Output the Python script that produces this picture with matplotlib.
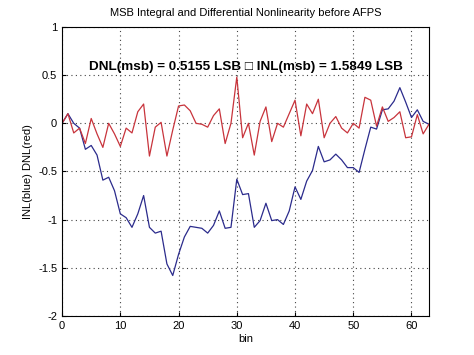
import numpy as np
import matplotlib
matplotlib.use("Agg")
import matplotlib.pyplot as plt

plt.rcParams['font.family'] = ['Liberation Sans', 'DejaVu Sans']

bins = np.arange(64)
dnl = [0.0, 0.10, -0.10, -0.05, -0.21, 0.05, -0.11, -0.25, 0.0, -0.11,
       -0.24, -0.05, -0.10, 0.12, 0.20, -0.34, -0.04, 0.01, -0.34, -0.07,
       0.18, 0.19, 0.13, 0.0, -0.01, -0.04, 0.08, 0.15, -0.21, 0.0,
       0.48, -0.15, 0.0, -0.33, 0.02, 0.17, -0.19, 0.0, -0.04, 0.10,
       0.24, -0.13, 0.20, 0.10, 0.25, -0.15, 0.0, 0.07, -0.05, -0.10,
       0.0, -0.05, 0.27, 0.24, -0.03, 0.17, 0.02, 0.06, 0.12, -0.15,
       -0.14, 0.09, -0.11, -0.01]
inl = [0.0, 0.10, 0.0, -0.05, -0.27, -0.23, -0.33, -0.59, -0.56, -0.70,
       -0.94, -0.98, -1.08, -0.94, -0.75, -1.08, -1.14, -1.12, -1.46, -1.58,
       -1.36, -1.18, -1.07, -1.08, -1.09, -1.14, -1.06, -0.91, -1.09, -1.08,
       -0.58, -0.74, -0.73, -1.08, -1.01, -0.83, -1.01, -1.00, -1.05, -0.91,
       -0.66, -0.79, -0.60, -0.49, -0.24, -0.40, -0.38, -0.32, -0.38, -0.46,
       -0.46, -0.51, -0.27, -0.04, -0.06, 0.14, 0.15, 0.23, 0.37, 0.22,
       0.06, 0.14, 0.02, -0.01]

fig = plt.figure(figsize=(4.74, 3.55), dpi=100)
ax = fig.add_axes([0.131, 0.110, 0.774, 0.814])

ax.plot(bins, inl, color='#2b2b8c', lw=0.9)
ax.plot(bins, dnl, color='#c8343c', lw=0.9)

ax.set_xlim(0, 63)
ax.set_ylim(-2, 1)
ax.set_xticks(range(0, 61, 10))
ax.set_yticks([-2, -1.5, -1, -0.5, 0, 0.5, 1])
ax.set_yticklabels(['-2', '-1.5', '-1', '-0.5', '0', '0.5', '1'])
ax.tick_params(direction='in', labelsize=8, length=3)
ax.grid(True, linestyle=(0, (1, 3)), color='#444444', lw=0.8)

ax.set_title('MSB Integral and Differential Nonlinearity before AFPS', fontsize=8, pad=8)
ax.set_xlabel('bin', fontsize=8, labelpad=2)
ax.set_ylabel('INL(blue) DNL(red)', fontsize=8)
ax.text(31.5, 0.58, 'DNL(msb) = 0.5155 LSB \u25a1 INL(msb) = 1.5849 LSB',
        ha='center', va='center', fontsize=9.7, fontweight='bold',
        family=['Liberation Sans', 'DejaVu Sans'])

fig.savefig('out.png', dpi=100)
